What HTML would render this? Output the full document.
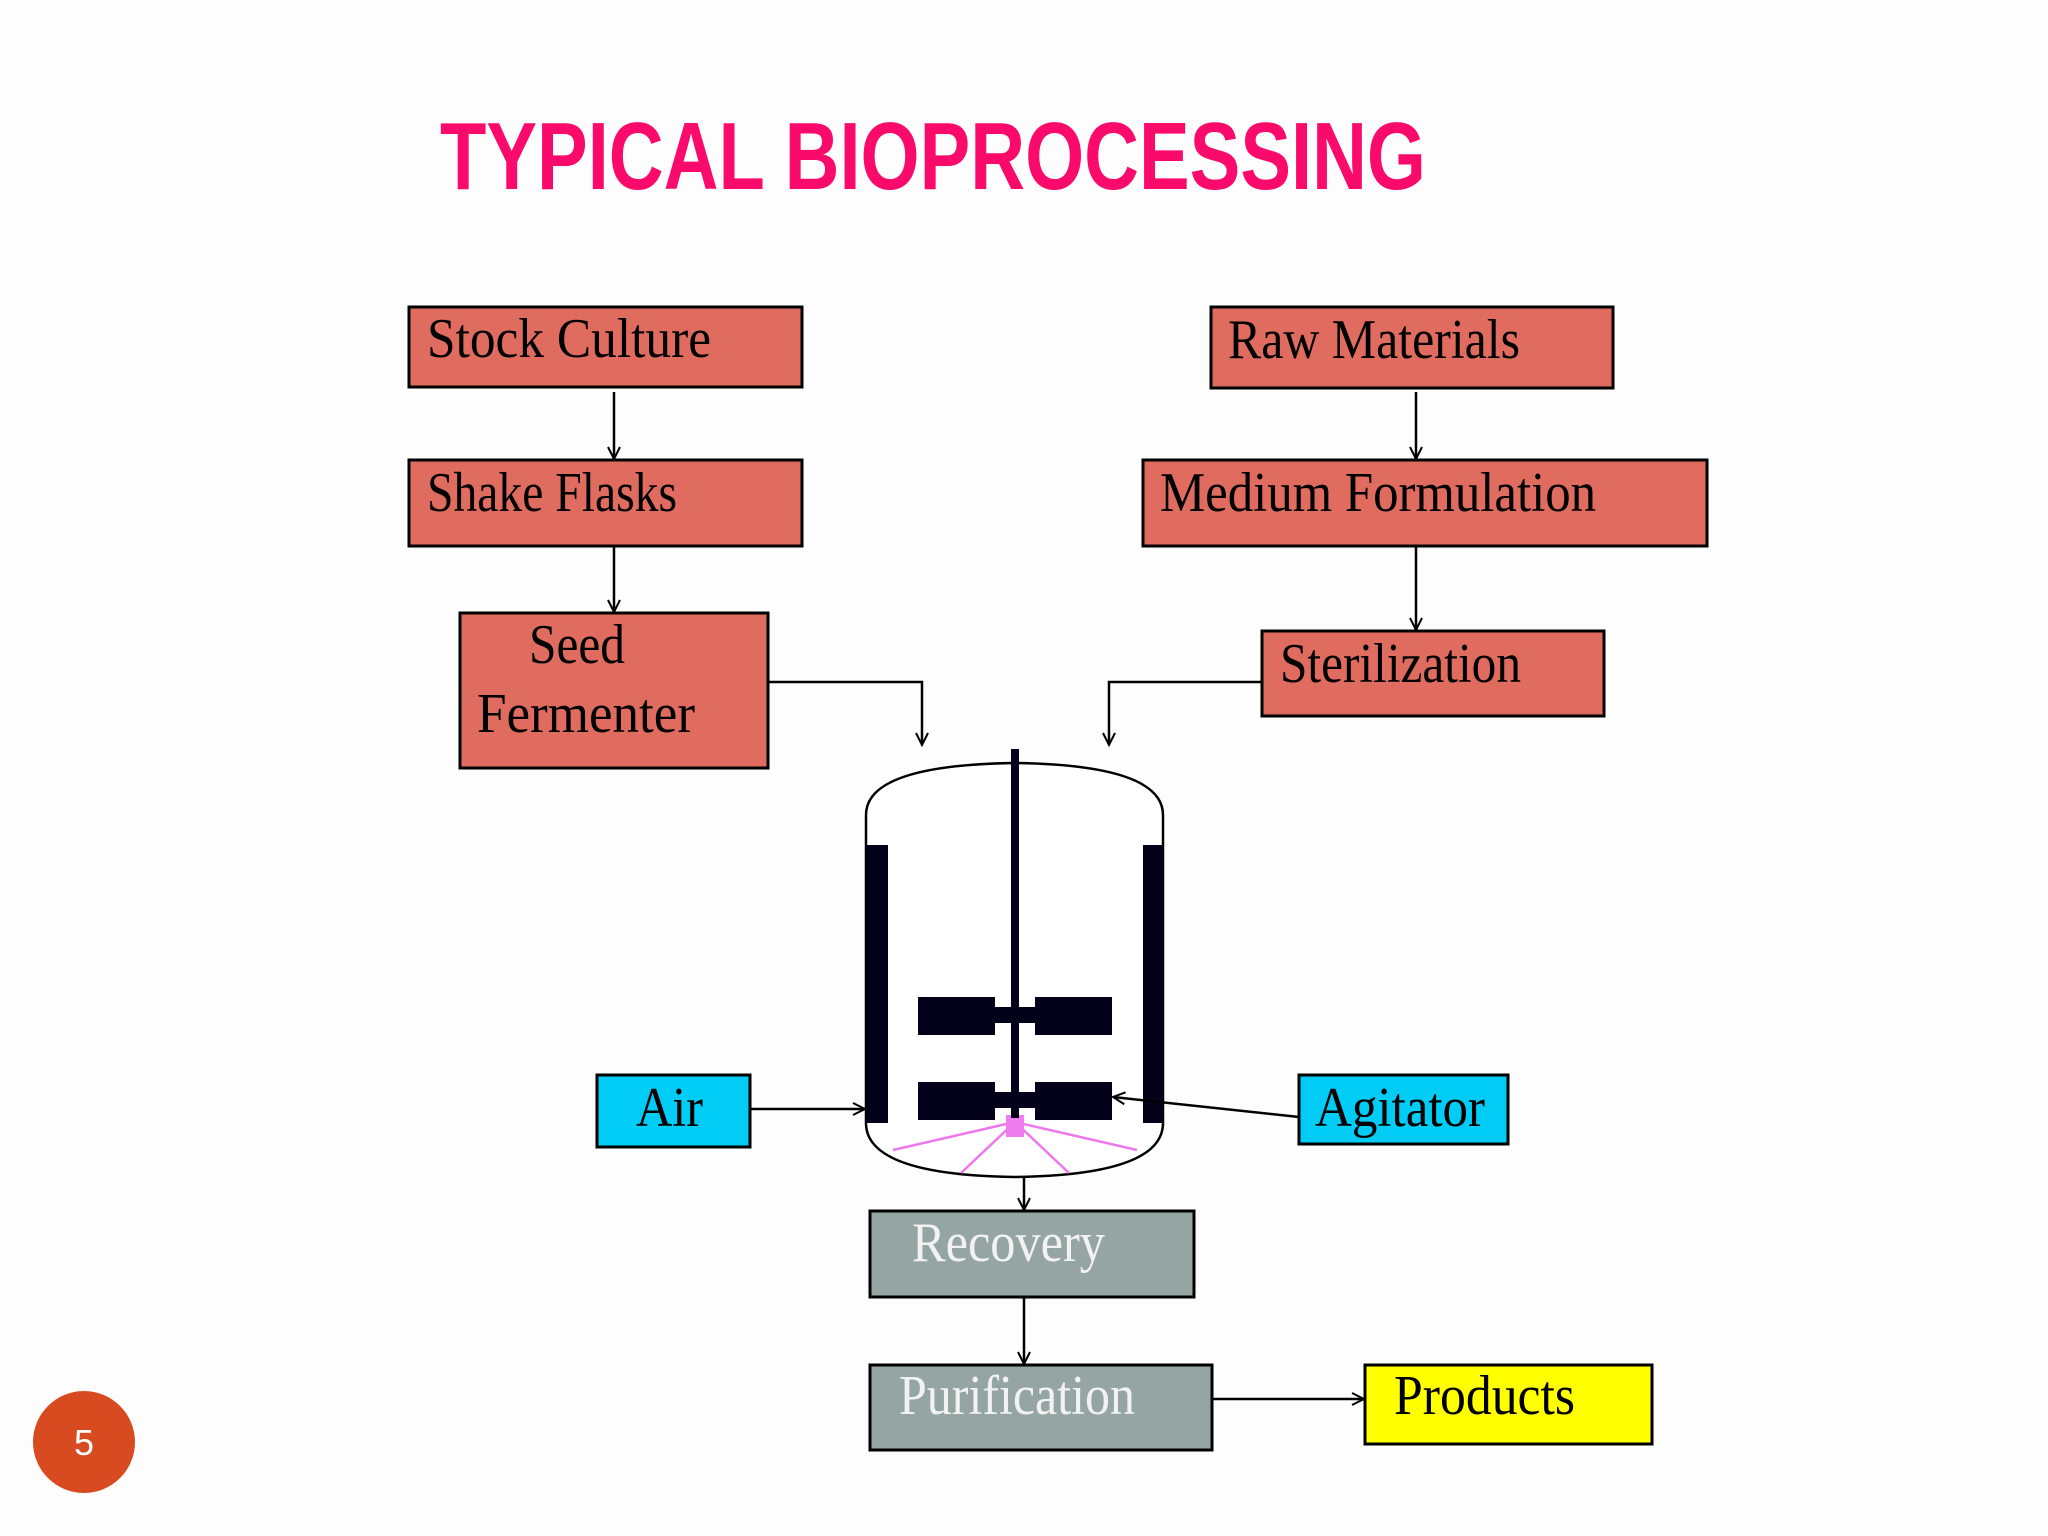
<!DOCTYPE html>
<html><head><meta charset="utf-8"><style>
html,body{margin:0;padding:0;background:#fdfdfd;}
svg{display:block;}
.t{font-family:"Liberation Serif",serif;font-size:56px;fill:#000;}
</style></head><body>
<svg width="2048" height="1536" viewBox="0 0 2048 1536" xmlns="http://www.w3.org/2000/svg">
<defs>
<marker id="a" markerWidth="16" markerHeight="16" refX="14" refY="8" orient="auto" markerUnits="userSpaceOnUse">
<path d="M2,2 L14,8 L2,14" fill="none" stroke="#000" stroke-width="2"/>
</marker>
</defs>
<rect width="2048" height="1536" fill="#fdfdfd"/>
<text x="440" y="189" textLength="986" lengthAdjust="spacingAndGlyphs" font-family="Liberation Sans, sans-serif" font-weight="bold" font-size="96" fill="#fa0a6a">TYPICAL BIOPROCESSING</text>

<g stroke="#000" stroke-width="3" fill="#e06c5f">
<rect x="409" y="307" width="393" height="80"/>
<rect x="409" y="460" width="393" height="86"/>
<rect x="460" y="613" width="308" height="155"/>
<rect x="1211" y="307" width="402" height="81"/>
<rect x="1143" y="460" width="564" height="86"/>
<rect x="1262" y="631" width="342" height="85"/>
<rect x="597" y="1075" width="153" height="72" fill="#00ccf5"/>
<rect x="1299" y="1075" width="209" height="69" fill="#00ccf5"/>
<rect x="870" y="1211" width="324" height="86" fill="#95a5a3"/>
<rect x="870" y="1365" width="342" height="85" fill="#95a5a3"/>
<rect x="1365" y="1365" width="287" height="79" fill="#ffff00"/>
</g>

<g class="t">
<text class="t" x="427" y="357" textLength="284" lengthAdjust="spacingAndGlyphs">Stock Culture</text>
<text class="t" x="427" y="511" textLength="250" lengthAdjust="spacingAndGlyphs">Shake Flasks</text>
<text class="t" x="529" y="663" textLength="96" lengthAdjust="spacingAndGlyphs">Seed</text>
<text class="t" x="477" y="732" textLength="218" lengthAdjust="spacingAndGlyphs">Fermenter</text>
<text class="t" x="1228" y="358" textLength="292" lengthAdjust="spacingAndGlyphs">Raw Materials</text>
<text class="t" x="1160" y="511" textLength="436" lengthAdjust="spacingAndGlyphs">Medium Formulation</text>
<text class="t" x="1280" y="682" textLength="241" lengthAdjust="spacingAndGlyphs">Sterilization</text>
<text class="t" x="636" y="1126" textLength="67" lengthAdjust="spacingAndGlyphs">Air</text>
<text class="t" x="1315" y="1126" textLength="170" lengthAdjust="spacingAndGlyphs">Agitator</text>
<text class="t" x="912" y="1261" textLength="193" lengthAdjust="spacingAndGlyphs" style="fill:#f2f2f2">Recovery</text>
<text class="t" x="899" y="1414" textLength="236" lengthAdjust="spacingAndGlyphs" style="fill:#f2f2f2">Purification</text>
<text class="t" x="1394" y="1414" textLength="181" lengthAdjust="spacingAndGlyphs">Products</text>
</g>

<g stroke="#000" stroke-width="2.5" fill="none">
<line x1="614" y1="392" x2="614" y2="459" marker-end="url(#a)"/>
<line x1="614" y1="546" x2="614" y2="612" marker-end="url(#a)"/>
<line x1="1416" y1="392" x2="1416" y2="459" marker-end="url(#a)"/>
<line x1="1416" y1="546" x2="1416" y2="630" marker-end="url(#a)"/>
<polyline points="768,682 922,682 922,745" marker-end="url(#a)"/>
<polyline points="1262,682 1109,682 1109,745" marker-end="url(#a)"/>
<line x1="750" y1="1109" x2="865" y2="1109" marker-end="url(#a)"/>
<line x1="1024" y1="1177" x2="1024" y2="1210" marker-end="url(#a)"/>
<line x1="1024" y1="1297" x2="1024" y2="1364" marker-end="url(#a)"/>
<line x1="1212" y1="1399" x2="1364" y2="1399" marker-end="url(#a)"/>
</g>

<!-- vessel -->
<g>
<path d="M866,815 Q866,765 1015,763 Q1163,765 1163,815 L1163,1123 Q1163,1175 1015,1177 Q866,1175 866,1123 Z" fill="#fff" stroke="#000" stroke-width="2.5"/>
<g stroke="#ee77ee" stroke-width="2.5">
<line x1="1015" y1="1122" x2="893" y2="1150"/>
<line x1="1015" y1="1122" x2="961" y2="1173"/>
<line x1="1015" y1="1122" x2="1069" y2="1173"/>
<line x1="1015" y1="1122" x2="1137" y2="1150"/>
</g>
<rect x="1006" y="1115" width="18" height="22" fill="#f07cf0"/>
<g fill="#03021a">
<rect x="866" y="845" width="22" height="278"/>
<rect x="1143" y="845" width="20" height="278"/>
<rect x="1011" y="749" width="8" height="369"/>
<rect x="918" y="997" width="77" height="38"/>
<rect x="1035" y="997" width="77" height="38"/>
<rect x="946" y="1007" width="139" height="16"/>
<rect x="918" y="1082" width="77" height="38"/>
<rect x="1035" y="1082" width="77" height="38"/>
<rect x="946" y="1092" width="139" height="16"/>
</g>
</g>
<line x1="1299" y1="1117" x2="1113" y2="1097" stroke="#000" stroke-width="2.5" marker-end="url(#a)"/>

<circle cx="84" cy="1442" r="51" fill="#d84a1f"/>
<text x="84" y="1455" text-anchor="middle" font-family="Liberation Sans, sans-serif" font-size="36" fill="#fff">5</text>
</svg>
</body></html>
